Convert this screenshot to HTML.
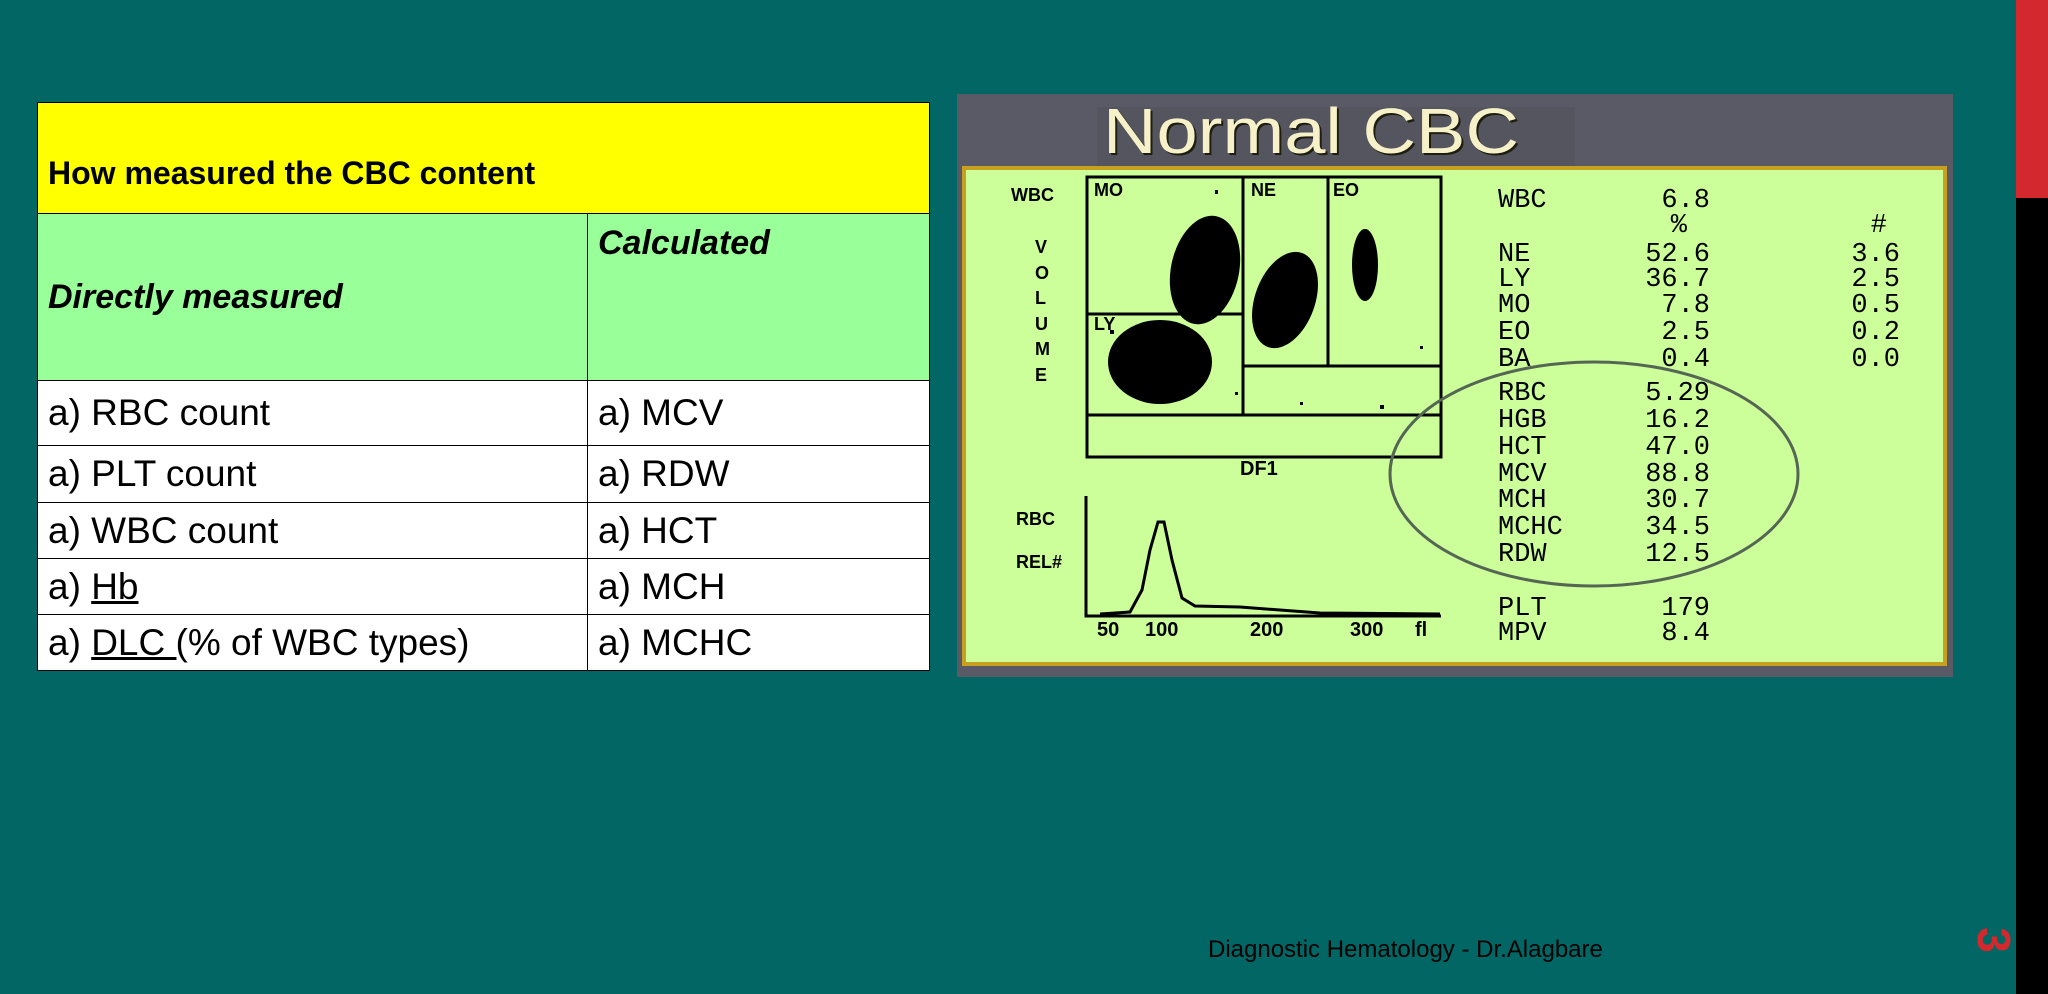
<!DOCTYPE html>
<html><head><meta charset="utf-8"><style>
html,body{margin:0;padding:0}
body{width:2048px;height:994px;background:#026664;position:relative;overflow:hidden;font-family:"Liberation Sans",sans-serif}
.abs{position:absolute}
table{border-collapse:collapse;position:absolute;left:37px;top:102px;width:893px}
td{border:1.5px solid #000;padding:0 10px;font-size:37px;color:#000;vertical-align:middle}
</style></head><body>
<table>
<tr style="height:111px;background:#ffff00"><td colspan="2" style="font-weight:bold;font-size:32px;padding-top:30px">How measured the CBC content</td></tr>
<tr style="height:167px;background:#99ff99"><td style="width:529px;font-weight:bold;font-style:italic;font-size:34px">Directly measured</td><td style="font-weight:bold;font-style:italic;font-size:34px;vertical-align:top;padding-top:10px">Calculated</td></tr>
<tr style="height:65px;background:#fff"><td>a) RBC count</td><td>a) MCV</td></tr>
<tr style="height:57px;background:#fff"><td>a) PLT count</td><td>a) RDW</td></tr>
<tr style="height:56px;background:#fff"><td>a) WBC count</td><td>a) HCT</td></tr>
<tr style="height:56px;background:#fff"><td>a) <u>Hb</u></td><td>a) MCH</td></tr>
<tr style="height:56px;background:#fff"><td>a) <u>DLC (</u>% of WBC types)</td><td>a) MCHC</td></tr>
</table>

<svg class="abs" style="left:0;top:0" width="2048" height="994">
<rect x="957" y="94" width="996" height="583" fill="#5a5a66"/>
<rect x="1097" y="107" width="478" height="60" fill="#55555f"/>
<text x="1103" y="153" font-size="64" fill="#1e1e10" font-family="Liberation Sans" dx="2" dy="2" textLength="416" lengthAdjust="spacingAndGlyphs">Normal CBC</text>
<text x="1103" y="153" font-size="64" fill="#f6f1c8" font-family="Liberation Sans" textLength="416" lengthAdjust="spacingAndGlyphs">Normal CBC</text>
<rect x="964" y="168" width="981" height="496" fill="#ccff99" stroke="#c8a020" stroke-width="4"/>
<g font-family="Liberation Sans" font-weight="bold" font-size="18" fill="#000">
<text x="1011" y="201">WBC</text>
<text x="1035" y="253">V</text><text x="1035" y="279">O</text><text x="1035" y="304">L</text><text x="1035" y="330">U</text><text x="1035" y="355">M</text><text x="1035" y="381">E</text>
<text x="1094" y="196">MO</text><text x="1251" y="196">NE</text><text x="1333" y="196">EO</text><text x="1094" y="330">LY</text>
<text x="1240" y="475" font-size="20">DF1</text>
<text x="1016" y="525">RBC</text><text x="1016" y="568">REL#</text>
<text x="1097" y="636" font-size="20">50</text><text x="1145" y="636" font-size="20">100</text><text x="1250" y="636" font-size="20">200</text><text x="1350" y="636" font-size="20">300</text><text x="1415" y="636" font-size="20">fl</text>
</g>
<g fill="#000">
<ellipse cx="1205" cy="270" rx="34" ry="55" transform="rotate(12 1205 270)"/>
<ellipse cx="1285" cy="300" rx="30" ry="50" transform="rotate(20 1285 300)"/>
<ellipse cx="1160" cy="362" rx="52" ry="42"/>
<ellipse cx="1365" cy="265" rx="13" ry="36"/>
<rect x="1110" y="330" width="4" height="4"/><rect x="1140" y="395" width="4" height="4"/><rect x="1300" y="402" width="3" height="3"/><rect x="1380" y="405" width="4" height="4"/><rect x="1215" y="190" width="3" height="4"/><rect x="1420" y="346" width="3" height="3"/><rect x="1235" y="392" width="3" height="3"/>
</g>
<g fill="none" stroke="#000" stroke-width="3">
<rect x="1087" y="177" width="354" height="280"/>
<line x1="1243" y1="177" x2="1243" y2="415"/><line x1="1328" y1="177" x2="1328" y2="366"/>
<line x1="1087" y1="314" x2="1243" y2="314"/><line x1="1243" y1="366" x2="1441" y2="366"/><line x1="1087" y1="415" x2="1441" y2="415"/>
<polyline points="1086,496 1086,616 1441,616"/>
<polyline points="1100,614 1130,612 1142,590 1150,550 1158,522 1164,522 1172,560 1182,598 1195,606 1240,607 1280,610 1320,613 1440,614"/>
</g>
<g font-family="Liberation Mono" font-size="27" fill="#000">
<text x="1498" y="207">WBC</text><text x="1710" y="207" text-anchor="end">6.8</text>
<text x="1687" y="232" text-anchor="end">%</text><text x="1887" y="232" text-anchor="end">#</text>
<text x="1498" y="261">NE</text><text x="1710" y="261" text-anchor="end">52.6</text><text x="1900" y="261" text-anchor="end">3.6</text>
<text x="1498" y="286">LY</text><text x="1710" y="286" text-anchor="end">36.7</text><text x="1900" y="286" text-anchor="end">2.5</text>
<text x="1498" y="312">MO</text><text x="1710" y="312" text-anchor="end">7.8</text><text x="1900" y="312" text-anchor="end">0.5</text>
<text x="1498" y="339">EO</text><text x="1710" y="339" text-anchor="end">2.5</text><text x="1900" y="339" text-anchor="end">0.2</text>
<text x="1498" y="366">BA</text><text x="1710" y="366" text-anchor="end">0.4</text><text x="1900" y="366" text-anchor="end">0.0</text>
<text x="1498" y="400">RBC</text><text x="1710" y="400" text-anchor="end">5.29</text>
<text x="1498" y="427">HGB</text><text x="1710" y="427" text-anchor="end">16.2</text>
<text x="1498" y="454">HCT</text><text x="1710" y="454" text-anchor="end">47.0</text>
<text x="1498" y="481">MCV</text><text x="1710" y="481" text-anchor="end">88.8</text>
<text x="1498" y="507">MCH</text><text x="1710" y="507" text-anchor="end">30.7</text>
<text x="1498" y="534">MCHC</text><text x="1710" y="534" text-anchor="end">34.5</text>
<text x="1498" y="561">RDW</text><text x="1710" y="561" text-anchor="end">12.5</text>
<text x="1498" y="615">PLT</text><text x="1710" y="615" text-anchor="end">179</text>
<text x="1498" y="640">MPV</text><text x="1710" y="640" text-anchor="end">8.4</text>
</g>
<ellipse cx="1594" cy="474" rx="204" ry="112" fill="none" stroke="#556655" stroke-width="3"/>
<rect x="2016" y="0" width="32" height="198" fill="#d3292e"/>
<rect x="2016" y="198" width="32" height="796" fill="#000"/>
<text x="0" y="0" transform="translate(1978,940) rotate(90)" font-family="Liberation Sans" font-weight="bold" font-size="46" fill="#d3292e" text-anchor="middle">3</text>
</svg>
<div class="abs" style="left:1208px;top:936px;font-size:24px;color:#000">Diagnostic Hematology - Dr.Alagbare</div>
</body></html>
